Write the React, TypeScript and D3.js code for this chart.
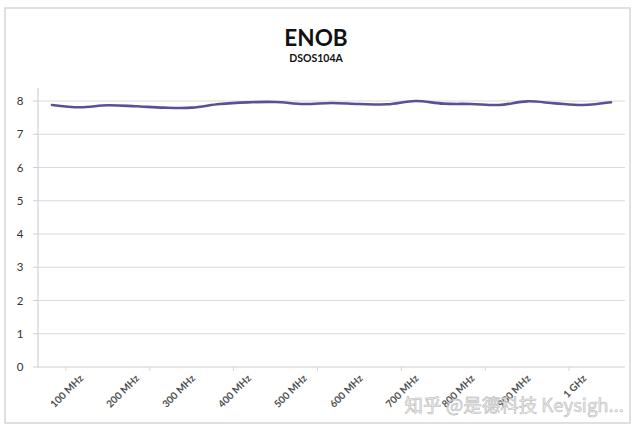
import React from "react";
import * as d3 from "d3";

const categories = [
  "50 MHz", "100 MHz", "150 MHz", "200 MHz", "250 MHz", "300 MHz", "350 MHz",
  "400 MHz", "450 MHz", "500 MHz", "550 MHz", "600 MHz", "650 MHz", "700 MHz",
  "750 MHz", "800 MHz", "850 MHz", "900 MHz", "950 MHz", "1 GHz", "1.05 GHz",
];
const enob = [
  7.88, 7.81, 7.87, 7.84, 7.8, 7.8, 7.91, 7.96, 7.97, 7.91, 7.94,
  7.91, 7.9, 8.0, 7.92, 7.91, 7.88, 7.99, 7.93, 7.88, 7.96,
];
const shownLabels = [
  "100 MHz", "200 MHz", "300 MHz", "400 MHz", "500 MHz",
  "600 MHz", "700 MHz", "800 MHz", "900 MHz", "1 GHz",
];
const yTicks = [0, 1, 2, 3, 4, 5, 6, 7, 8];
const title = "ENOB";
const subtitle = "DSOS104A";
const watermark = "知乎 @是德科技 Keysigh...";

export default function App() {
  const W = 640, H = 430;
  const left = 38, right = 625, top = 101, bottom = 367;
  const x = d3.scaleBand<string>().domain(categories).range([left, right]);
  const cx = (c: string) => (x(c) as number) + x.bandwidth() / 2;
  const y = d3.scaleLinear().domain([0, 8]).range([bottom, top]);
  const line = d3
    .line<number>()
    .x((_, i) => cx(categories[i]))
    .y((d) => y(d))
    .curve(d3.curveCatmullRom.alpha(0.5));
  const boundaryTicks = categories
    .map((c, i) => i)
    .filter((i) => i % 3 === 1)
    .map((i) => x(categories[i]) as number);
  const font = "Lato, 'Open Sans', sans-serif";
  return (
    <svg
      width={W}
      height={H}
      style={{ position: "absolute", left: 0, top: 0, background: "#fff" }}
    >
      <rect x={0} y={0} width={W} height={H} fill="#fff" />
      <rect x={5} y={8} width={625} height={415} fill="#fff" stroke="#d6d6d6" strokeWidth={1.5} />
      <text x={316} y={46} textAnchor="middle" fontFamily={font} fontWeight={700} fontSize={22.5} fill="#111">
        {title}
      </text>
      <text x={316} y={62} textAnchor="middle" fontFamily={font} fontWeight={700} fontSize={10.5} fill="#111">
        {subtitle}
      </text>
      {yTicks.map((t) => (
        <g key={t}>
          {t > 0 && (
            <line x1={left} x2={right} y1={y(t)} y2={y(t)} stroke="#dadada" strokeWidth={1} />
          )}
          <line x1={left - 5} x2={left} y1={y(t)} y2={y(t)} stroke="#cfcfcf" strokeWidth={1} />
          <text x={20} y={y(t) + 4} textAnchor="middle" fontFamily={font} fontSize={11.5} fill="#333">
            {t}
          </text>
        </g>
      ))}
      <line x1={left} x2={left} y1={88} y2={bottom} stroke="#d0d0e0" strokeWidth={1.2} />
      <line x1={left} x2={right} y1={bottom} y2={bottom} stroke="#cfcfcf" strokeWidth={1.2} />
      {boundaryTicks.map((bx, i) => (
        <line key={i} x1={bx} x2={bx} y1={bottom} y2={bottom + 4} stroke="#d5d5d5" strokeWidth={1} />
      ))}
      <path d={line(enob) || ""} fill="none" stroke="#5a5096" strokeWidth={2.6} strokeLinecap="round" />
      {shownLabels.map((lab, i) => {
        const c = categories[2 * i + 1];
        const px = cx(c) + 4;
        const py = bottom + 12;
        return (
          <text
            key={lab}
            transform={`translate(${px},${py}) rotate(-45)`}
            textAnchor="end"
            fontFamily={font}
            fontWeight={700}
            fontSize={10}
            fill="#505050"
          >
            {lab}
          </text>
        );
      })}
      <text
        x={624}
        y={412}
        textAnchor="end"
        fontFamily="'Noto Sans CJK SC', 'Noto Sans', sans-serif"
        fontSize={18.5}
        fill="#ececec"
        stroke="#b0b0b0"
        strokeWidth={0.55}
        opacity={0.9}
      >
        {watermark}
      </text>
    </svg>
  );
}
